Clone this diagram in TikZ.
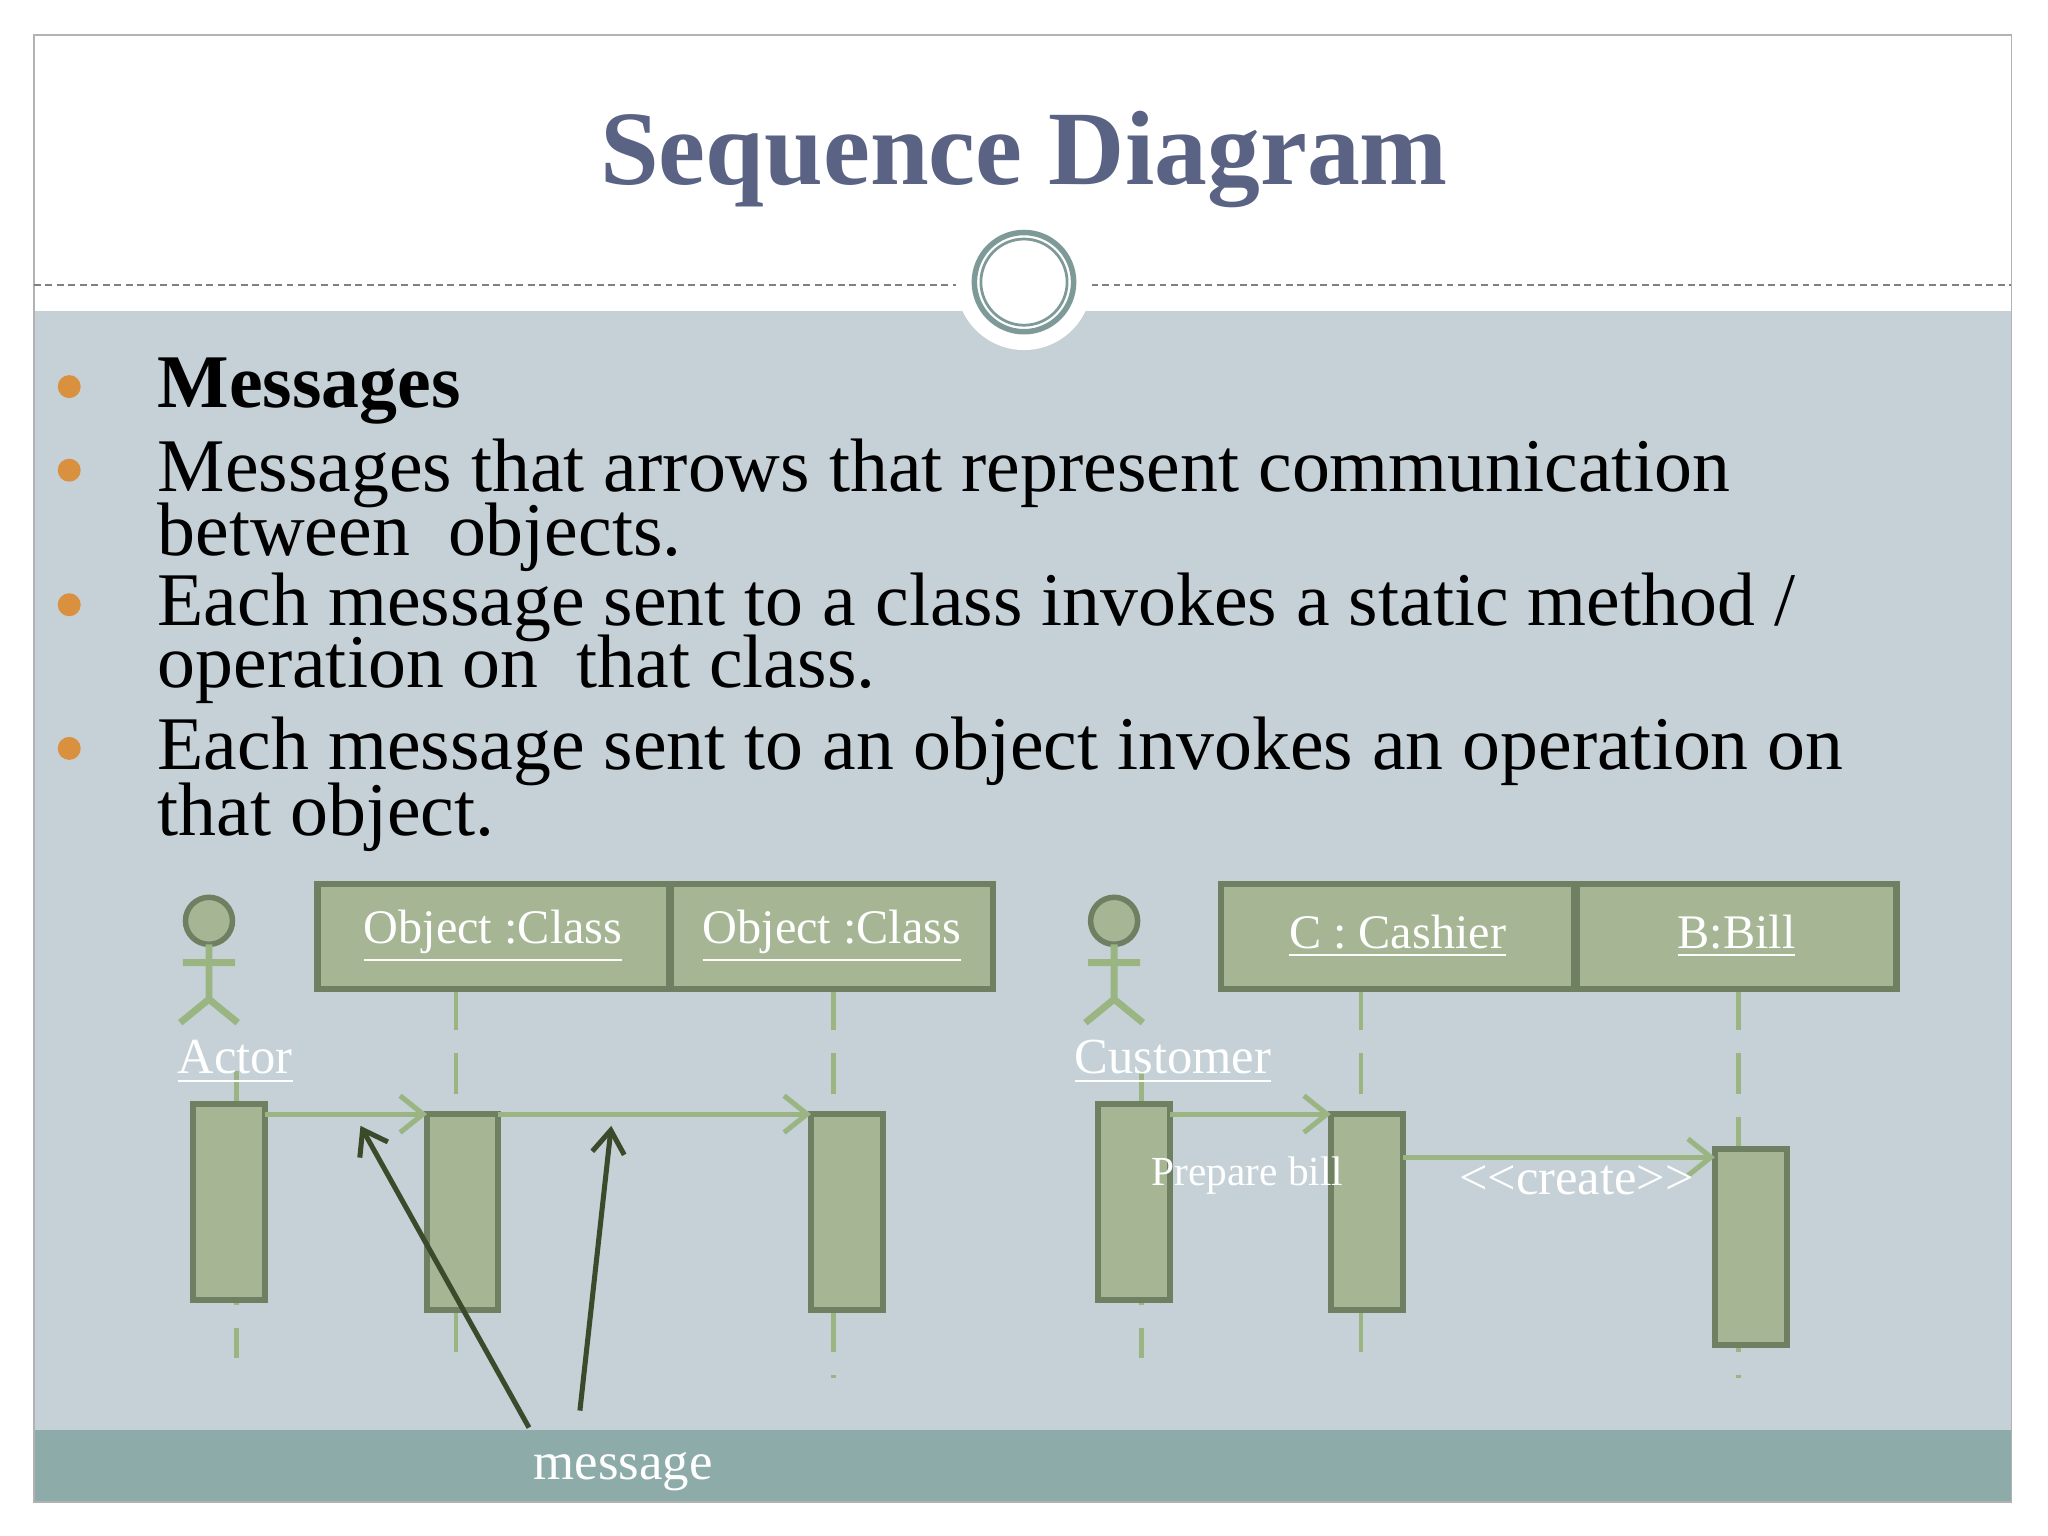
\documentclass[tikz,border=0pt]{standalone}
\usepackage{fontspec}
\setmainfont{Liberation Serif}
\usetikzlibrary{arrows.meta}
\definecolor{bg}{HTML}{C5D1D7}
\definecolor{band}{HTML}{8DABA8}
\definecolor{ttl}{HTML}{5A6384}
\definecolor{bul}{HTML}{D9903F}
\definecolor{gfill}{HTML}{A6B694}
\definecolor{gline}{HTML}{6F7F62}
\definecolor{msg}{HTML}{9BB582}
\definecolor{dark}{HTML}{3B4A2A}
\definecolor{ring}{HTML}{7E9A98}
\begin{document}
\begin{tikzpicture}[x=0.01cm,y=-0.01cm,
  obj/.style={draw=gline,fill=gfill,line width=1.4pt,minimum height=0.8cm,inner sep=0pt,text=white,font=\fontsize{10.5}{12}\selectfont},
  act/.style={draw=gline,fill=gfill,line width=1.3pt},
  life/.style={draw=msg,line width=1pt,dash pattern=on 9pt off 5pt},
  mg/.style={draw=msg,line width=1.1pt,-{Straight Barb[length=5pt,width=8pt]}},
  pt/.style={draw=dark,line width=1.1pt,-{Straight Barb[length=5pt,width=7pt]}},
  btxt/.style={anchor=base west,font=\fontsize{16.5}{13}\selectfont,inner sep=0pt},
  bdot/.style={circle,fill=bul,inner sep=0pt,minimum size=5pt}]
\useasboundingbox (0,0) rectangle (1568,1176);
\fill[white] (0,0) rectangle (1568,1176);
\fill[bg] (26,238) rectangle (1540,1095);
\fill[band] (26,1095) rectangle (1540,1150);
\draw[gray!60,line width=0.4pt] (26,27) rectangle (1540,1150);
\draw[gray,dash pattern=on 1.5pt off 1pt,line width=0.4pt] (26,218) -- (735,218) (835,218) -- (1540,218);
\fill[white] (784,216) circle (52);
\draw[ring,line width=1.2pt] (784,216) circle (38);
\draw[ring,line width=0.6pt] (784,216) circle (33);
\node[font=\fontsize{23}{28}\selectfont\bfseries,text=ttl] (title) at (784,122) {Sequence Diagram};
% bullets
\foreach \y/\n in {296/a,360/b,463/c,573/d} \node[bdot] (dot\n) at (53,\y) {};
\node[btxt,font=\fontsize{16.5}{13}\selectfont\bfseries] (t1) at (120,312) {Messages};
\node[btxt] (t2a) at (120,376) {Messages that arrows that represent communication};
\node[btxt] (t2b) at (120,425) {between\ \ objects.};
\node[btxt] (t3a) at (120,479) {Each message sent to a class invokes a static method\ /};
\node[btxt] (t3b) at (120,526) {operation on\ \ that class.};
\node[btxt] (t4a) at (120,589) {Each message sent to an object invokes an operation on};
\node[btxt] (t4b) at (120,640) {that object.};
% lifelines
\foreach \x/\a/\b in {181/820/1040,349/757/1045,638/757/1055,874/820/1040,1042/757/1045,1331/757/1055}
  \draw[life] (\x,\a) -- (\x,\b);
% objects
\node[obj,minimum width=2.69cm] (o1) at (377.5,717) {\underline{Object\ :Class}};
\node[obj,minimum width=2.46cm] (o2) at (637,717) {\underline{Object\ :Class}};
\node[obj,minimum width=2.70cm] (o3) at (1070,717) {\underline{C : Cashier}};
\node[obj,minimum width=2.45cm] (o4) at (1329.5,717) {\underline{B:Bill}};
% actors
\foreach \x/\lab/\nm/\dx in {160/Actor/actA/20,853/Customer/actB/45}{
  \draw[gline,fill=gfill,line width=1.2pt] (\x,705) circle (18);
  \draw[msg,line width=1.5pt] (\x,723) -- (\x,765) (\x-20,737) -- (\x+20,737) (\x-22,783) -- (\x,765) -- (\x+22,783);
  \node[text=white,font=\fontsize{11}{13}\selectfont] (\nm) at (\x+\dx,813) {\underline{\lab}};
}
% activations
\draw[act] (148,845) rectangle (203,995);
\draw[act] (327,853) rectangle (381,1003);
\draw[act] (621,853) rectangle (676,1003);
\draw[act] (841,845) rectangle (896,995);
\draw[act] (1019,853) rectangle (1074,1003);
\draw[act] (1313,880) rectangle (1368,1030);
\coordinate (m1a) at (203,853); \coordinate (m1b) at (327,853);
\coordinate (m2a) at (381,853); \coordinate (m2b) at (621,853);
\coordinate (m3a) at (896,853); \coordinate (m3b) at (1019,853);
\coordinate (m4a) at (1074,886); \coordinate (m4b) at (1313,886);
\draw[mg] (m1a) -- (m1b);
\draw[mg] (m2a) -- (m2b);
\draw[mg] (m3a) -- (m3b);
\draw[mg] (m4a) -- (m4b);
\node[text=white,font=\fontsize{9}{11}\selectfont] (pb) at (955,900) {Prepare bill};
\node[text=white,font=\fontsize{11}{13}\selectfont] (cr) at (1207,904) {{<}{<}create{>}{>}};
\coordinate (p1a) at (405,1093); \coordinate (p1b) at (276,862);
\coordinate (p2a) at (444,1080); \coordinate (p2b) at (468,862);
\draw[pt] (p1a) -- (p1b);
\draw[pt] (p2a) -- (p2b);
\node[text=white,font=\fontsize{11.5}{14}\selectfont] (mlab) at (477,1127) {message};
\end{tikzpicture}
\end{document}
